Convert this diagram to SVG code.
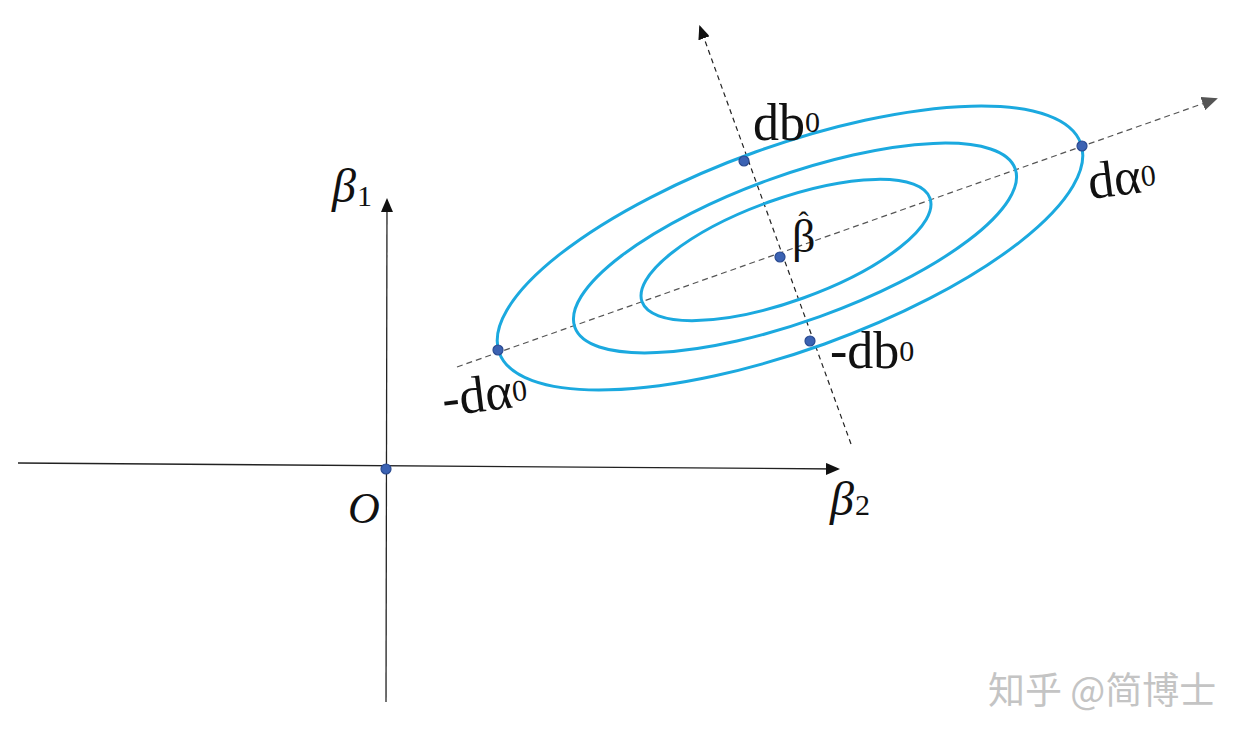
<svg xmlns="http://www.w3.org/2000/svg" width="1253" height="741" viewBox="0 0 1253 741">
<style>
.axis{stroke:#222;stroke-width:1.3;fill:none}
.dash1{stroke:#555;stroke-width:1.2;stroke-dasharray:6 4;fill:none}
.dash2{stroke:#222;stroke-width:1.2;stroke-dasharray:5 4;fill:none}
.ell{stroke:#1BA9DF;stroke-width:3;fill:none}
.dot{fill:#3B62B3;stroke:#2A4A90;stroke-width:1.2}
.lbl{font-family:"Liberation Serif","DejaVu Serif",serif;fill:#111}
.it{font-style:italic}
.wm{font-family:"Noto Sans CJK SC",sans-serif;fill:#c4c4c4;font-size:37px}
</style>
<defs>
<marker id="ab" markerWidth="14" markerHeight="12" refX="12" refY="6" orient="auto" markerUnits="userSpaceOnUse"><path d="M0,0 L14,6 L0,12 Z" fill="#111"/></marker>
<marker id="ag" markerWidth="16" markerHeight="14" refX="14" refY="7" orient="auto" markerUnits="userSpaceOnUse"><path d="M0,0 L16,7 L0,14 Z" fill="#555"/></marker>
</defs>
<rect width="1253" height="741" fill="#fff"/>
<g id="connectors">
<line class="axis" x1="18" y1="463" x2="838" y2="469" marker-end="url(#ab)"/>
<line class="axis" x1="386" y1="702" x2="387" y2="200" marker-end="url(#ab)"/>
<line class="dash1" x1="457" y1="367" x2="1216" y2="99" marker-end="url(#ag)"/>
<line class="dash2" x1="851" y1="444" x2="700" y2="27" marker-end="url(#ab)"/>
</g>
<g id="contours">
<ellipse class="ell" cx="790" cy="248" rx="309" ry="102" transform="rotate(-19.8 790 248)"/>
<ellipse class="ell" cx="795" cy="248" rx="234" ry="73" transform="rotate(-19.8 795 248)"/>
<ellipse class="ell" cx="786" cy="250" rx="153" ry="51" transform="rotate(-19.8 786 250)"/>
</g>
<g id="node-origin"><circle class="dot" cx="386" cy="469" r="5"/><text class="lbl it" x="348" y="523" font-size="44">O</text></g>
<g id="node-beta1"><text class="lbl it" x="332" y="202" font-size="48">β<tspan font-size="30" font-style="normal" dx="1" dy="4">1</tspan></text></g>
<g id="node-beta2"><text class="lbl it" x="830" y="515" font-size="48">β<tspan font-size="30" font-style="normal" dx="1" dy="0">2</tspan></text></g>
<g id="node-betahat"><circle class="dot" cx="780" cy="257" r="5"/><text class="lbl" x="792" y="252" font-size="46">β<tspan font-size="30" dx="-17" dy="-20">ˆ</tspan></text></g>
<g id="node-db0"><circle class="dot" cx="744" cy="161" r="5"/><text class="lbl" x="753" y="140" font-size="52">db<tspan font-size="30" dy="-8">0</tspan></text></g>
<g id="node-mdb0"><circle class="dot" cx="810" cy="341" r="5"/><text class="lbl" x="830" y="368" font-size="52">-db<tspan font-size="30" dy="-7">0</tspan></text></g>
<g id="node-da0"><circle class="dot" cx="1082" cy="146" r="5"/><text class="lbl" x="1090" y="199" font-size="52" transform="rotate(-7 1090 199)">dα<tspan font-size="30" dy="-6">0</tspan></text></g>
<g id="node-mda0"><circle class="dot" cx="498" cy="350" r="5"/><text class="lbl" x="444" y="416" font-size="52" transform="rotate(-7 444 416)">-dα<tspan font-size="30" dy="-6">0</tspan></text></g>
<g id="watermark"><text class="wm" x="988" y="704">知乎 @简博士</text></g>
</svg>
